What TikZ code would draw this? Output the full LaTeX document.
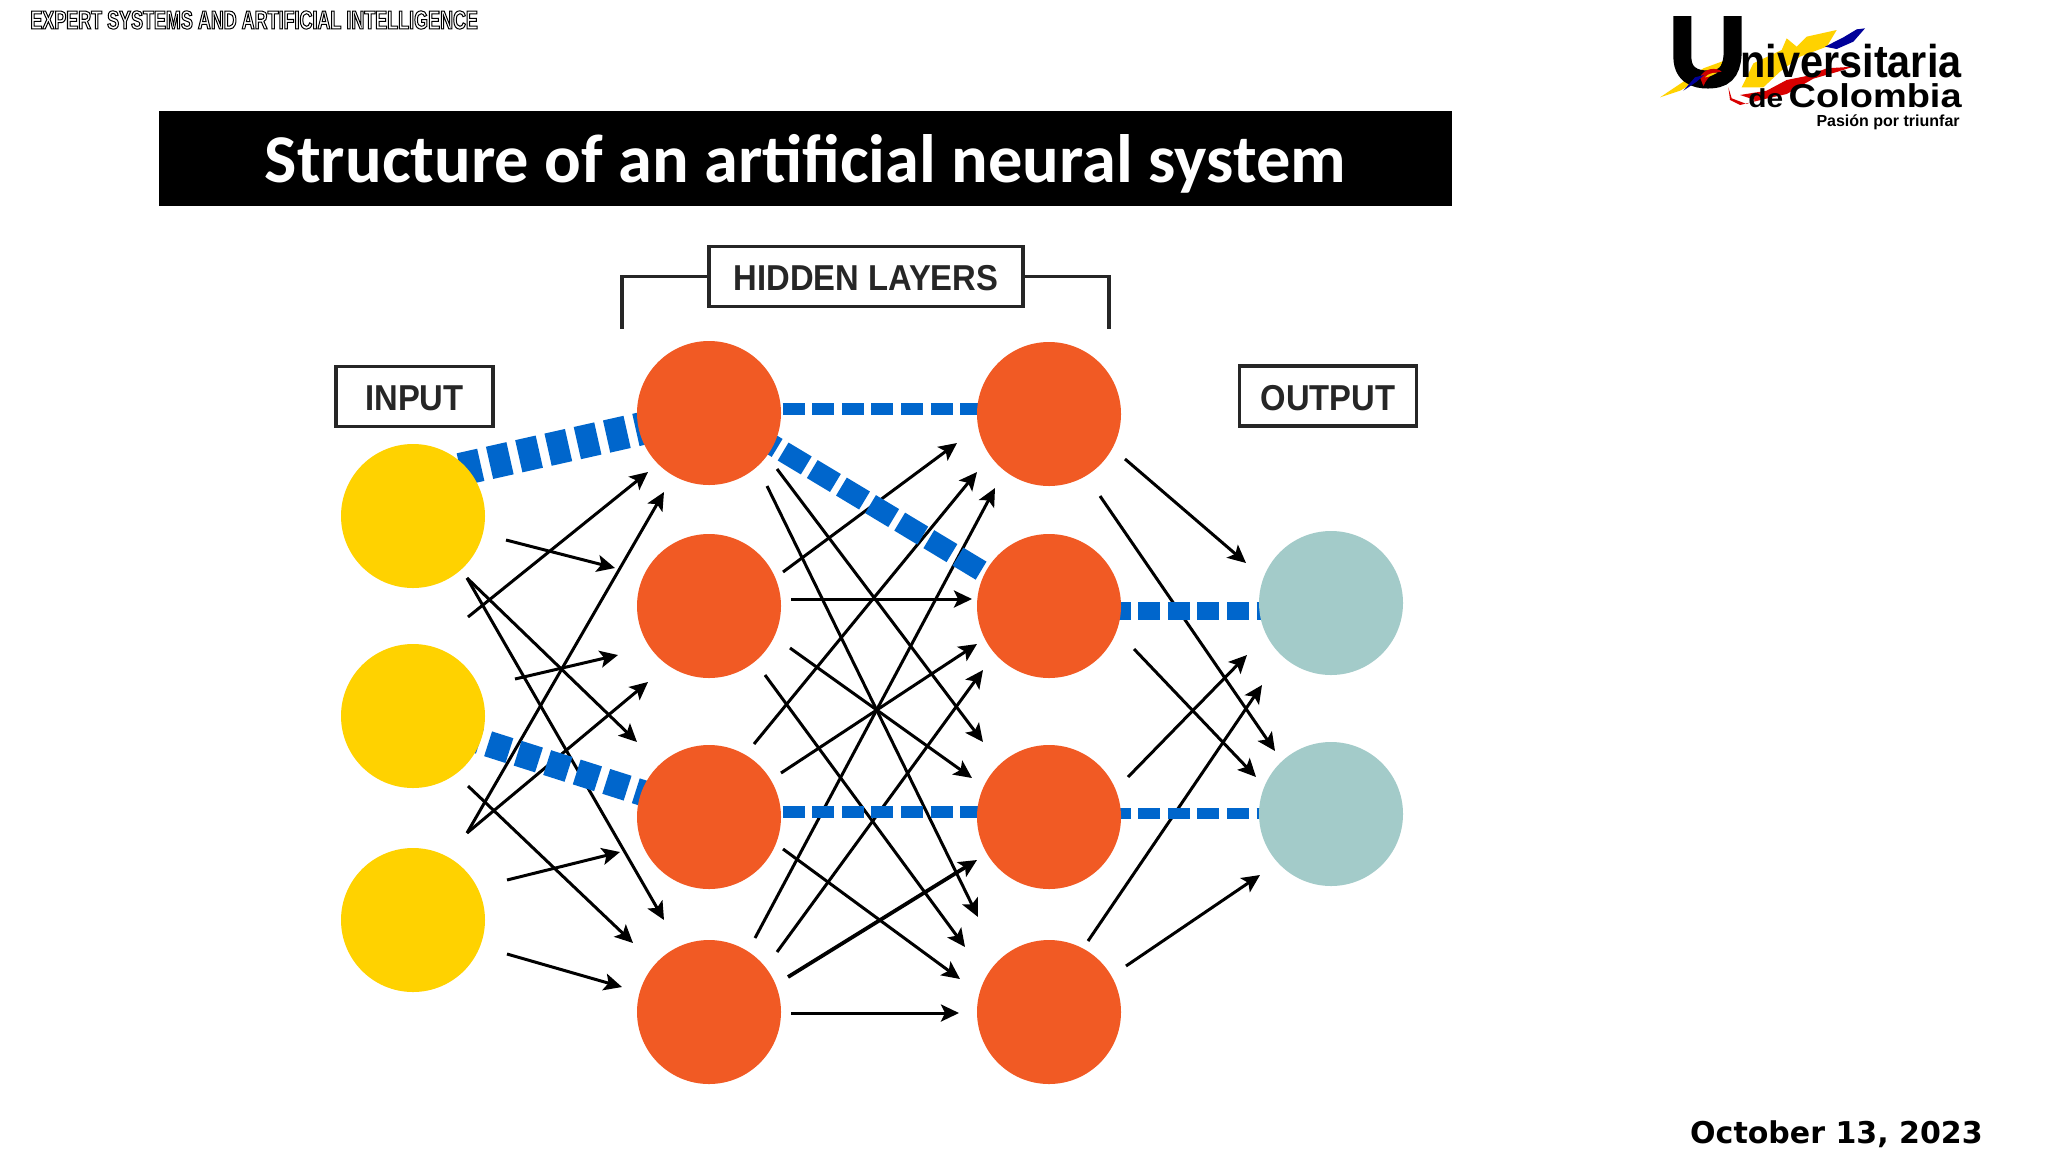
\documentclass[tikz,border=0pt]{standalone}
\usepackage{fontspec}
\usetikzlibrary{arrows.meta,backgrounds,calc}
\newfontfamily\titlefont{Carlito}
\newfontfamily\labelfont{Liberation Sans}
\newfontfamily\tagfont[FakeStretch=0.91]{Liberation Sans}
\newfontfamily\datefont{DejaVu Sans}
\newfontfamily\headfont[FakeStretch=0.69]{Liberation Sans}
\newfontfamily\logofont[FakeStretch=1.15]{Liberation Sans}
\newfontfamily\logotop[FakeStretch=0.9]{Liberation Sans}
\definecolor{nodeyellow}{HTML}{FFD200}
\definecolor{nodeorange}{HTML}{F15A24}
\definecolor{nodeteal}{HTML}{A3CBC9}
\definecolor{bandblue}{HTML}{0066CC}
\tikzset{
  neuron/.style={circle,inner sep=0pt,minimum size=72pt},
  wire/.style={line width=1.5pt,-{Stealth[length=9pt,width=8.5pt,inset=2pt]}},
  band/.style={bandblue,line width=#1},
  tag/.style={draw=black!85,line width=1.7pt,fill=white,inner sep=0pt,text height=14.4pt,text depth=0pt,font=\tagfont\bfseries\fontsize{18}{20}\selectfont,text=black!85},
}
\begin{document}
\begin{tikzpicture}[x=0.5pt,y=-0.5pt]
\useasboundingbox (0,0) rectangle (2048,1152);

\foreach \name/\py in {in1/516,in2/716,in3/920}
  \node[neuron,fill=nodeyellow] (\name) at (413,\py) {};
\foreach \name/\py in {ha1/413,ha2/606,ha3/817,ha4/1012}
  \node[neuron,fill=nodeorange] (\name) at (709,\py) {};
\foreach \name/\py in {hb1/414,hb2/606,hb3/817,hb4/1012}
  \node[neuron,fill=nodeorange] (\name) at (1049,\py) {};
\foreach \name/\py in {out1/603,out2/814}
  \node[neuron,fill=nodeteal] (\name) at (1331,\py) {};

\begin{scope}[on background layer]
\fill[white] (0,0) rectangle (2048,1152);
\foreach \a/\ax/\ay/\b/\bx/\by in {
  in1/93/24/ha2/-94/-38, in2/55/-99/ha1/-61/59, in2/102/-37/ha2/-91/49,
  in3/54/-87/ha1/-45/79, in3/54/-87/ha2/-61/76, in1/54/62/ha3/-72/-75,
  in1/54/62/ha4/-45/-92, in2/55/70/ha4/-76/-69, in3/94/-40/ha3/-89/35,
  in3/94/34/ha4/-87/-25,
  ha2/74/-34/hb1/-92/29, ha3/45/-73/hb1/-72/58, ha4/46/-74/hb1/-54/74,
  ha2/82/-7/hb2/-77/-7, ha3/72/-44/hb2/-72/38, ha4/68/-60/hb2/-66/64,
  ha1/68/56/hb3/-66/-75, ha1/58/73/hb4/-71/-95, ha2/81/42/hb3/-77/-39,
  ha2/56/69/hb4/-84/-65, ha3/74/32/hb4/-89/-33, ha4/82/1/hb4/-90/1,
  hb1/76/45/out1/-85/-40, hb1/51/82/out2/-56/-63, hb2/85/43/out2/-75/-37,
  hb3/79/-40/out1/-84/52, hb4/39/-71/out1/-69/82, hb4/77/-46/out2/-71/61}
  \draw[wire] ($(\a)+(\ax,\ay)$) -- ($(\b)+(\bx,\by)$);
\draw[wire,line width=1.9pt] ($(ha4)+(79,-35)$) -- ($(hb3)+(-72,43)$);

% blue
\draw[band=16.5pt,dash pattern=on 10.5pt off 4.5pt] ($(in1)+(18,-40)$) -- ($(ha1)+(-29,7)$);
\draw[band=13pt,dash pattern=on 11.2pt off 4.3pt] ($(in2)+(16,9)$) -- ($(ha3)+(-19,-9)$);
\draw[band=10.5pt,dash pattern=on 13.5pt off 3.5pt] ($(ha1)+(45,21)$) -- ($(hb2)+(-49,-24)$);
\draw[band=6pt,dash pattern=on 11pt off 3.8pt] ($(ha1)+(44,-4)$) -- ($(hb1)+(-49,-5)$);
\draw[band=6pt,dash pattern=on 11pt off 3.8pt] ($(ha3)+(44,-5)$) -- ($(hb3)+(-49,-5)$);
\draw[band=9pt,dash pattern=on 11pt off 3.8pt] ($(hb2)+(30,5)$) -- ($(out1)+(-41,8)$);
\draw[band=5.5pt,dash pattern=on 11pt off 3.8pt] ($(hb3)+(30,-4)$) -- ($(out2)+(-41,-1)$);
\end{scope}

\node[fill=black,minimum width=646.5pt,minimum height=47.5pt,inner sep=0pt,text=white,
      font=\titlefont\bfseries\fontsize{34.2}{38}\selectfont] (title) at (805.5,158.5) {\raisebox{-12pt}[20pt][20pt]{Structure of an artificial neural system}};

\node[tag,minimum width=157pt,minimum height=30pt] (hidden) at (866,276.5) {HIDDEN LAYERS};
\node[tag,minimum width=78.5pt,minimum height=30pt] (input) at (414.5,396.5) {INPUT};
\node[tag,minimum width=88.5pt,minimum height=30pt] (output) at (1328,396) {OUTPUT};
\coordinate (bracketL) at (622,329);
\coordinate (bracketR) at (1109,329);
\draw[draw=black!85,line width=1.9pt] (hidden.west) -| (bracketL);
\draw[draw=black!85,line width=1.9pt] (hidden.east) -| (bracketR);

\node[anchor=west,inner sep=0pt,font=\headfont\bfseries\fontsize{13}{15}\selectfont] (head) at (30,20)
  {\special{pdf:code 1 Tr 0.5 w}EXPERT SYSTEMS AND ARTIFICIAL INTELLIGENCE\special{pdf:code 0 Tr}};
\node[anchor=east,inner sep=0pt,font=\datefont\bfseries\fontsize{15}{18}\selectfont] (date) at (1983,1134) {October 13, 2023};

% logo
\begin{scope}[shift={(1640,0)},x=0.16667pt,y=-0.16667pt]
\fill[nodeyellow] (60,292) -- (130,245) -- (190,205) -- (250,183) -- (255,200) -- (180,240) -- (120,272) -- cycle;
\fill[nodeyellow] (305,262) -- (340,190) -- (425,150) -- (440,115) -- (470,140) -- (500,110) -- (590,90) -- (560,140) -- (480,170) -- (420,215) -- (370,262) -- cycle;
\fill[blue!60!black] (555,140) -- (610,112) -- (650,88) -- (675,85) -- (640,125) -- (590,147) -- cycle;
\fill[red!85!black] (265,262) -- (275,295) -- (320,312) -- (345,300) -- (300,285) -- (380,272) -- (440,240) -- (500,228) -- (560,205) -- (640,200) -- (590,216) -- (520,236) -- (440,282) -- (370,298) -- (300,315) -- (270,300) -- cycle;
\draw[black,line width=9pt,line cap=butt] (127,48) -- (127,170) .. controls (127,240) and (190,240) .. (215,238) .. controls (265,235) and (278,200) .. (278,150) -- (278,48);
\fill[red!80!black] (180,232) .. controls (190,205) and (230,200) .. (245,215) .. controls (225,215) and (205,225) .. (190,258) -- cycle;
\fill[nodeyellow] (195,232) .. controls (205,220) and (220,218) .. (232,218) .. controls (220,225) and (205,232) .. (195,232) -- cycle;
\fill[blue!60!black] (130,272) -- (165,232) -- (192,225) -- (170,245) -- cycle;
\end{scope}
\node[anchor=base east,inner sep=0pt,font=\logotop\bfseries\fontsize{23}{26}\selectfont] (logoa) at (1962,77) {niversitaria};
\node[anchor=base east,inner sep=0pt,font=\logofont\bfseries\fontsize{16.5}{18}\selectfont] (logob) at (1962,107) {Colombia};
\node[anchor=base west,inner sep=0pt,font=\logofont\bfseries\fontsize{13}{16}\selectfont] (logoc) at (1748,107) {de};
\node[anchor=base east,inner sep=0pt,font=\labelfont\bfseries\fontsize{8}{10}\selectfont] (logod) at (1960,126) {Pasión por triunfar};
\end{tikzpicture}
\end{document}
